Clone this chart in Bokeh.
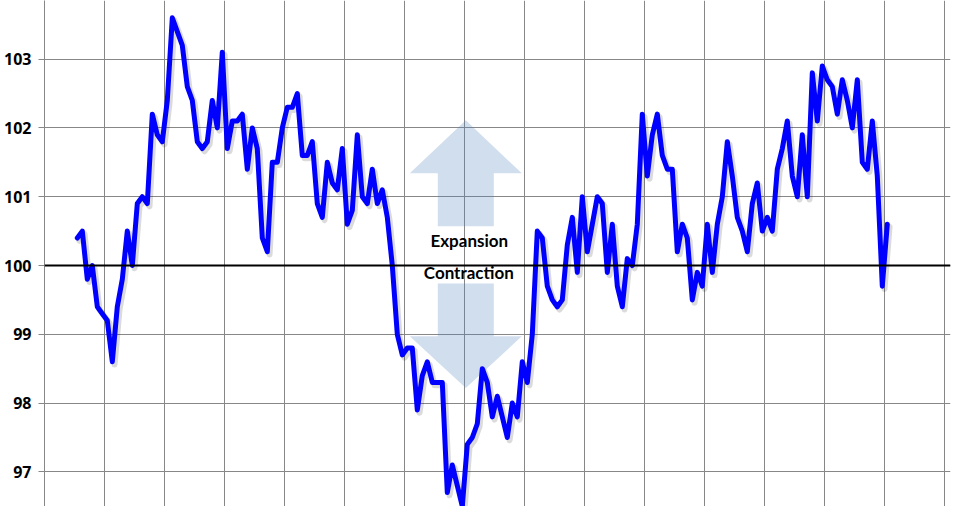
import numpy as np
from bokeh.plotting import figure
from bokeh.models import FixedTicker, Span, Label
from bokeh.embed import file_html
from bokeh.resources import INLINE

# ---- data (monthly index) ----
months = list(range(163))
index_values = [
    100.4, 100.5, 99.8, 100.0, 99.4, 99.3, 99.2, 98.6, 99.4, 99.8,
    100.5, 100.0, 100.9, 101.0, 100.9, 102.2, 101.9, 101.8, 102.4, 103.6,
    103.4, 103.2, 102.6, 102.4, 101.8, 101.7, 101.8, 102.4, 102.0, 103.1,
    101.7, 102.1, 102.1, 102.2, 101.4, 102.0, 101.7, 100.4, 100.2, 101.5,
    101.5, 102.0, 102.3, 102.3, 102.5, 101.6, 101.6, 101.8, 100.9, 100.7,
    101.5, 101.2, 101.1, 101.7, 100.6, 100.8, 101.9, 101.0, 100.9, 101.4,
    100.9, 101.1, 100.7, 100.0, 99.0, 98.7, 98.8, 98.8, 97.9, 98.4,
    98.6, 98.3, 98.3, 98.3, 96.7, 97.1, 96.8, 96.5, 97.4, 97.5,
    97.7, 98.5, 98.3, 97.8, 98.1, 97.8, 97.5, 98.0, 97.8, 98.6,
    98.3, 99.0, 100.5, 100.4, 99.7, 99.5, 99.4, 99.5, 100.3, 100.7,
    99.9, 101.0, 100.2, 100.6, 101.0, 100.9, 99.9, 100.6, 99.7, 99.4,
    100.1, 100.0, 100.6, 102.2, 101.3, 101.9, 102.2, 101.6, 101.4, 101.4,
    100.2, 100.6, 100.4, 99.5, 99.9, 99.7, 100.6, 99.9, 100.6, 101.0,
    101.8, 101.3, 100.7, 100.5, 100.2, 100.9, 101.2, 100.5, 100.7, 100.5,
    101.4, 101.7, 102.1, 101.3, 101.0, 101.9, 101.0, 102.8, 102.1, 102.9,
    102.7, 102.6, 102.2, 102.7, 102.4, 102.0, 102.7, 101.5, 101.4, 102.1,
    101.3, 99.7, 100.6,
]
y_ticks = [97, 98, 99, 100, 101, 102, 103]
year_bounds = [-6.5, 5.5, 17.5, 29.5, 41.5, 53.5, 65.5, 77.5, 89.5,
               101.5, 113.5, 125.5, 137.5, 149.5, 161.5, 173.5]
baseline_value = 100

# ---- annotation geometry (data units) ----
arrow_cx = 77.7
shaft_half = 5.6
head_half = 11.2
up_tip, up_head_base, up_shaft_end = 102.11, 101.34, 100.57
down_shaft_start, down_head_base, down_tip = 99.74, 98.97, 98.22

p = figure(width=955, height=506, output_backend="svg", toolbar_location=None,
           x_range=(-6.56, 174.64), y_range=(96.497, 103.852),
           min_border_left=44, min_border_right=5, min_border_top=0,
           min_border_bottom=0)
p.outline_line_color = None
p.background_fill_color = "white"
p.border_fill_color = "white"

grid_col = "#878787"
p.xaxis.visible = False
p.xgrid.ticker = FixedTicker(ticks=year_bounds)
p.xgrid.grid_line_color = grid_col
p.xgrid.grid_line_width = 1
p.yaxis.ticker = FixedTicker(ticks=y_ticks)
p.ygrid.ticker = FixedTicker(ticks=y_ticks)
p.ygrid.grid_line_color = grid_col
p.ygrid.grid_line_width = 1
p.yaxis.axis_line_color = grid_col
p.yaxis.major_tick_line_color = grid_col
p.yaxis.major_tick_out = 6
p.yaxis.major_tick_in = 0
p.yaxis.minor_tick_line_color = None
p.yaxis.major_label_standoff = 7
p.yaxis.major_label_text_font = "Open Sans"
p.yaxis.major_label_text_font_style = "bold"
p.yaxis.major_label_text_font_size = "16px"
p.yaxis.major_label_text_color = "black"

arrow_fill = "#4f81bd"
up_x = [arrow_cx - shaft_half, arrow_cx - shaft_half, arrow_cx - head_half, arrow_cx,
        arrow_cx + head_half, arrow_cx + shaft_half, arrow_cx + shaft_half]
up_y = [up_shaft_end, up_head_base, up_head_base, up_tip, up_head_base, up_head_base, up_shaft_end]
p.patch(up_x, up_y, fill_color=arrow_fill, fill_alpha=0.26, line_color=None)
down_x = up_x
down_y = [down_shaft_start, down_head_base, down_head_base, down_tip, down_head_base,
          down_head_base, down_shaft_start]
p.patch(down_x, down_y, fill_color=arrow_fill, fill_alpha=0.26, line_color=None)

p.add_layout(Span(location=baseline_value, dimension="width", line_color="black", line_width=2))

x = np.array(months, dtype=float)
y = np.array(index_values)
# soft shadow
p.line(x + 0.45, y - 0.04, line_color="black", line_alpha=0.14, line_width=6,
       line_join="round", line_cap="round")
p.line(x, y, line_color="#0000FF", line_width=5, line_join="round", line_cap="round")

p.add_layout(Label(x=78.4, y=100.366, text="Expansion", text_align="center",
                   text_baseline="alphabetic", text_font="Lato", text_font_style="bold",
                   text_font_size="17px", text_color="black"))
p.add_layout(Label(x=78.3, y=99.892, text="Contraction", text_align="center",
                   text_baseline="alphabetic", text_font="Lato", text_font_style="bold",
                   text_font_size="17px", text_color="black"))

open("out.html", "w").write(file_html(p, INLINE))
